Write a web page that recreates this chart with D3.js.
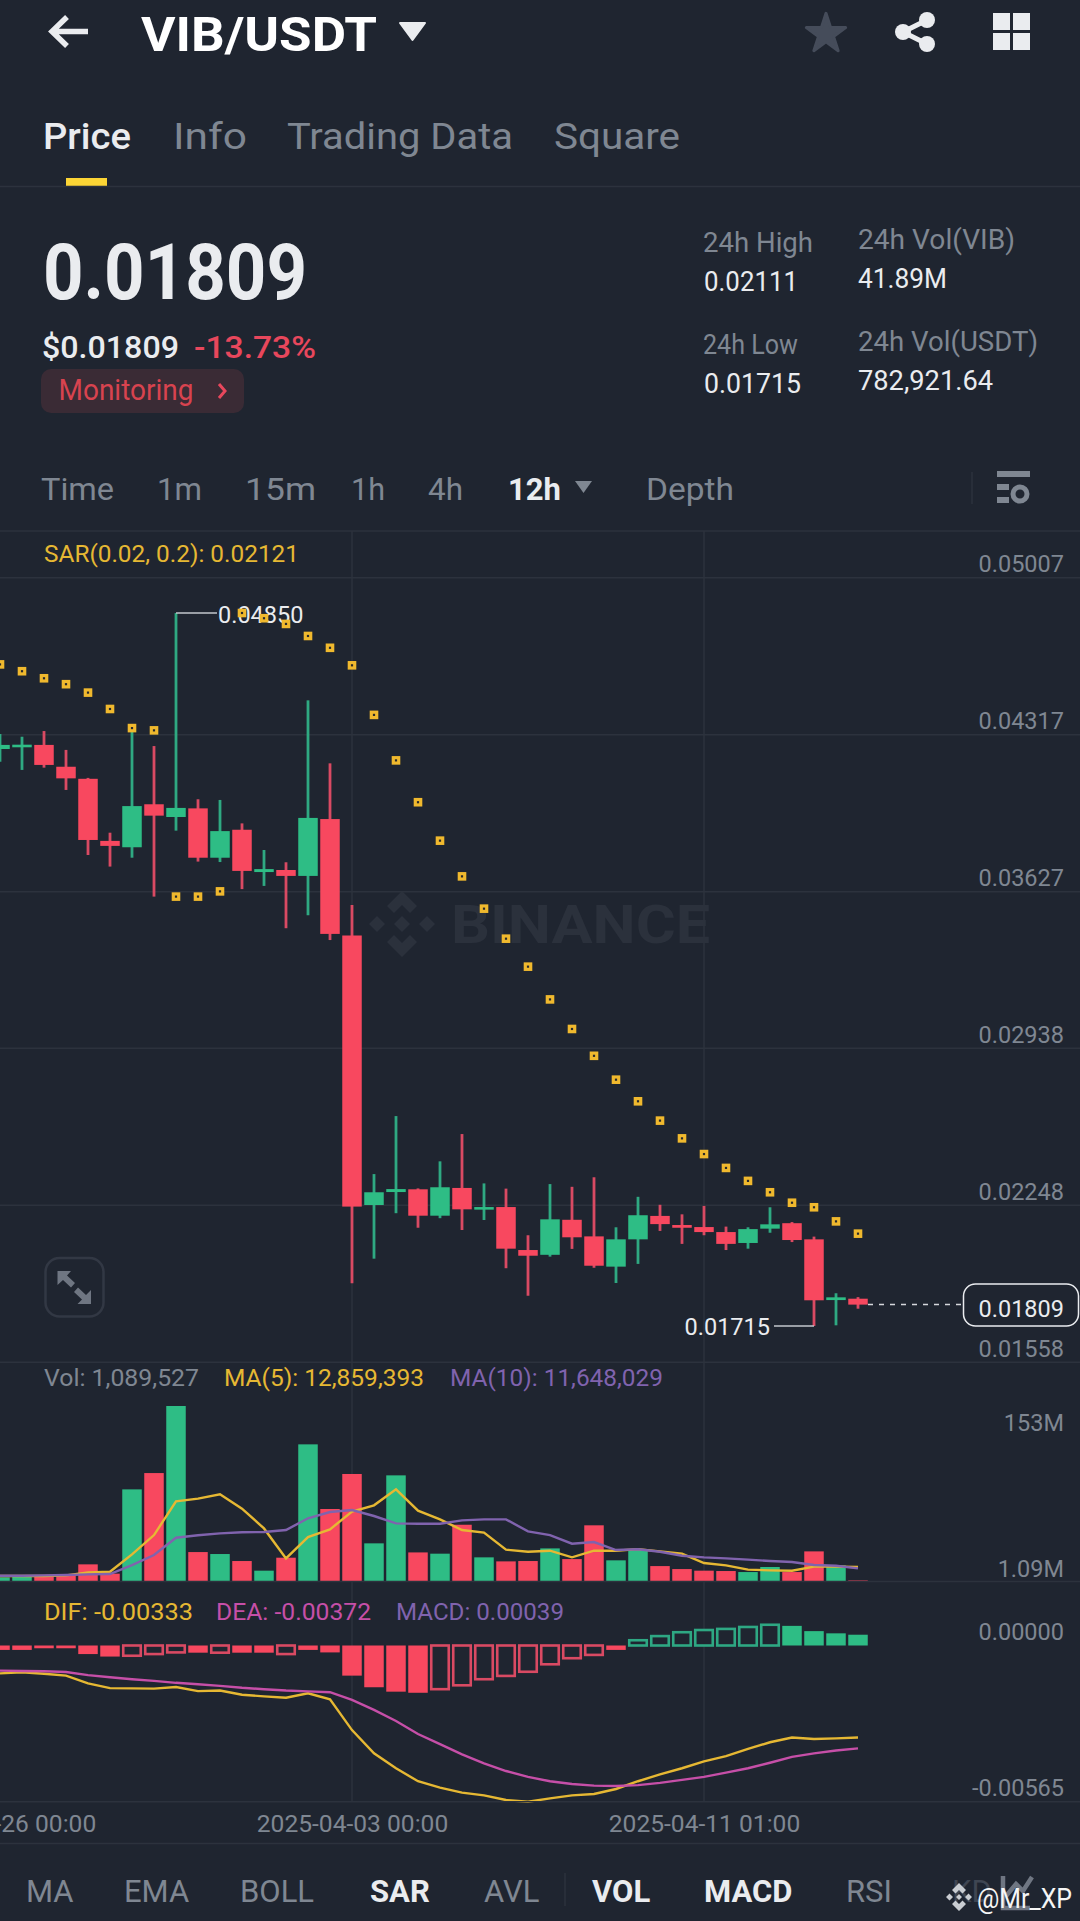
<!DOCTYPE html>
<html>
<head>
<meta charset="utf-8">
<script src="https://cdn.jsdelivr.net/npm/d3@7"></script>
<style>
  html, body { margin: 0; padding: 0; background: #1f2530; }
  svg { display: block; font-family: Roboto, sans-serif; }
</style>
</head>
<body>
<script>
// 12h candles
const highs = [.04318,.04306,.04331,.04248,.04125,.03884,.04336,.04265,.04850,.04031,
  .04028,.03925,.03808,.03754,.04466,.04189,.03566,.02383,.02638,.02320,
  .02439,.02559,.02342,.02319,.02114,.02339,.02327,.02369,.02149,.02283,
  .02248,.02206,.02243,.02152,.02149,.02237,.02172,.02108,.01859,.01842];
const lows = [.04196,.04160,.04170,.04072,.03786,.03735,.03774,.03603,.03893,.03757,
  .03755,.03636,.03650,.03464,.03521,.03412,.01903,.02011,.02211,.02147,
  .02189,.02137,.02181,.01969,.01848,.02020,.02054,.01971,.01904,.01988,
  .02133,.02076,.02114,.02049,.02055,.02125,.02084,.01715,.01718,.01791];
const opens = [.04252,.04261,.04270,.04174,.04121,.03848,.03820,.04009,.03953,.03991,
  .03774,.03897,.03711,.03720,.03694,.03944,.03432,.02247,.02304,.02316,
  .02200,.02322,.02228,.02238,.02049,.02028,.02182,.02109,.01976,.02096,
  .02199,.02159,.02150,.02128,.02080,.02143,.02167,.02096,.01829,.01835];
const closes = [.04270,.04271,.04182,.04123,.03852,.03826,.04001,.03959,.03993,.03774,
  .03891,.03716,.03724,.03694,.03949,.03439,.02240,.02303,.02317,.02200,
  .02325,.02228,.02238,.02055,.02024,.02184,.02105,.01980,.02096,.02202,
  .02163,.02147,.02128,.02076,.02141,.02162,.02093,.01828,.01841,.01809];
const sar = [.04624,.04594,.04563,.04537,.04500,.04428,.04344,.04334,.03603,.03603,
  .03626,.04850,.04827,.04802,.04749,.04697,.04620,.04402,.04202,.04018,
  .03849,.03692,.03550,.03418,.03295,.03151,.03021,.02903,.02798,.02703,
  .02618,.02540,.02471,.02410,.02353,.02303,.02257,.02237,.02175,.02121];

// volume, millions
const volumes = [3.8,4.1,5.2,5.8,15.1,7.0,80.4,94.6,153,25.8,24.1,18,9.6,20.9,119.6,63.3,93.8,33.4,92.6,25.5,
  24.4,49.6,21.2,17.7,18,29,19.7,49.1,18.6,27.6,13.6,11,9.6,9.3,8.4,12.8,8.4,26.4,14.2,1.09];
const ma5 = [4.9,4.9,4.9,5.5,8.1,8.7,23.8,40.6,70,72.3,76.1,63.6,46.4,20.3,38.9,45.6,61,66.5,80.4,61.8,
  54.3,45,42.7,27.9,26.1,27,21.2,27,27,28.4,26.4,24.4,16.3,14.2,10.5,9.9,9.6,13.1,13.1,12.86];
const ma10 = [5.2,5.2,5.5,5.8,6.4,6.7,14.5,23.2,38.3,40.4,42.1,43,43.3,45,55.2,60.7,62.4,57.2,50.8,50.5,
  50.5,53.4,54.3,54.3,43.8,40.6,33.1,34.5,27.6,28.2,26.1,22.6,21.2,20.3,19.2,18,17.1,14.5,13.9,11.65];

// MACD
const macd = [-.00016,-.00016,-.00010,-.00010,-.00031,-.00040,-.00037,-.00031,-.00025,-.00026,
  -.00026,-.00026,-.00026,-.00031,-.00016,-.00025,-.00109,-.00151,-.00167,-.00171,
  -.00158,-.00144,-.00122,-.00110,-.00095,-.00068,-.00046,-.00034,-.00016,.00019,
  .00034,.00048,.00056,.00060,.00067,.00075,.00071,.00052,.00044,.00039];
const macdHollow = [6,7,8,10,13,20,21,22,23,24,25,26,27,29,30,31,32,33,34,35];
const dif = [-.00101,-.00097,-.00102,-.00109,-.00137,-.00154,-.00155,-.00156,-.00150,-.00165,
  -.00163,-.00178,-.00184,-.00189,-.00173,-.00195,-.00306,-.00390,-.00444,-.00491,
  -.00514,-.00532,-.00542,-.00559,-.00565,-.00553,-.00542,-.00537,-.00519,-.00491,
  -.00466,-.00444,-.00419,-.00400,-.00374,-.00350,-.00333,-.00338,-.00336,-.00333];
const dea = [-.00091,-.00092,-.00093,-.00096,-.00107,-.00115,-.00122,-.00128,-.00135,-.00140,
  -.00146,-.00153,-.00158,-.00163,-.00166,-.00169,-.00197,-.00233,-.00273,-.00320,
  -.00357,-.00394,-.00426,-.00454,-.00475,-.00491,-.00501,-.00507,-.00508,-.00505,
  -.00497,-.00486,-.00475,-.00460,-.00444,-.00424,-.00403,-.00390,-.00380,-.00372];

// ticks
const priceTicks = [.05007,.04317,.03627,.02938,.02248,.01558];
const dateTicks = [[0, '2025-03-26 00:00'], [16, '2025-04-03 00:00'], [32, '2025-04-11 01:00']];
const timeTabs = [['Time',41,73],['1m',157,45],['15m',245,71],['1h',351,34],['4h',428,35],['12h',508,53],['Depth',646,88]];
const topTabs = [['Price',43,88],['Info',173,74],['Trading Data',287,226],['Square',554,126]];
const bottomTabs = [['MA',26],['EMA',124],['BOLL',240],['SAR',370],['AVL',484],['VOL',592],['MACD',704],['RSI',846],['KD',952]];
const activeTabs = ['Price','12h','SAR','VOL','MACD'];
const lastPrice = 0.01809, highPrice = 0.0485, lowPrice = 0.01715;

const BG = '#1f2530', GRID = '#2c323d', GREEN = '#2ebd85', RED = '#f8485f',
  GREY = '#7f8792', WHITE = '#eaecef', GOLD = '#e6b833', PURPLE = '#8063ae', PINK = '#c64fa8';

const width = 1080, height = 1921;
const svg = d3.select('body').append('svg').attr('width', width).attr('height', height)
  .style('background', BG);

const n = highs.length;
const barW = 19.5;
const x = d3.scaleLinear().domain([0, n - 1]).range([0, 858]);
const yPrice = d3.scaleLinear().domain([.01558, .05007]).range([1361.7, 577.3]);
const yVol = d3.scaleLinear().domain([0, 153]).range([1581.7, 1406]);
const yMacd = d3.scaleLinear().domain([-.00565, 0]).range([1801.7, 1645.5]);
const up = i => closes[i] >= opens[i];

function label(str, px, py, size, fill, weight, anchor) {
  return svg.append('text').attr('x', px).attr('y', py).text(str)
    .attr('font-size', size).attr('fill', fill)
    .attr('font-weight', weight || 400).attr('text-anchor', anchor || 'start');
}

// the app font is wider than Roboto in letters, so some texts are stretched to the measured width
function fit(sel, w) {
  return sel.attr('textLength', w).attr('lengthAdjust', 'spacingAndGlyphs');
}

function hline(py, x1, x2, color) {
  svg.append('line').attr('x1', x1 === undefined ? 0 : x1).attr('x2', x2 === undefined ? width : x2)
    .attr('y1', py).attr('y2', py).attr('stroke', color || GRID).attr('stroke-width', 1.5);
}

// header
svg.append('path').attr('d', 'M88 31.5H54 M67 17L52 31.5L67 46')
  .attr('fill', 'none').attr('stroke', WHITE).attr('stroke-width', 5.5);
fit(label('VIB/USDT', 141, 50.5, 48, '#ffffff', 700), 236);
svg.append('path').attr('d', 'M400 23H425L412.500 40Z').attr('fill', WHITE).attr('stroke', WHITE)
  .attr('stroke-width', 2).attr('stroke-linejoin', 'round');
svg.append('path').attr('transform', 'translate(826,34)')
  .attr('d', d3.symbol(d3.symbolStar, 480)()).attr('fill', '#454c5a')
  .attr('stroke', '#454c5a').attr('stroke-width', 3).attr('stroke-linejoin', 'round');
svg.append('path').attr('d', 'M927 20L903 32L927 44').attr('fill', 'none').attr('stroke', WHITE).attr('stroke-width', 5);
svg.selectAll('circle.share').data([[927, 20], [903, 32], [927, 44]]).enter().append('circle')
  .attr('class', 'share').attr('cx', d => d[0]).attr('cy', d => d[1]).attr('r', 8).attr('fill', WHITE);
svg.selectAll('rect.menu').data([[993, 13], [1013, 13], [993, 33], [1013, 33]]).enter()
  .append('rect').attr('class', 'menu').attr('x', d => d[0]).attr('y', d => d[1])
  .attr('width', 17).attr('height', 17).attr('fill', WHITE);

// tabs
topTabs.forEach(t => fit(label(t[0], t[1], 149, 37, activeTabs.includes(t[0]) ? WHITE : GREY, activeTabs.includes(t[0]) ? 500 : 400), t[2]));
svg.append('rect').attr('x', 66).attr('y', 178).attr('width', 41).attr('height', 8).attr('fill', '#fcd535');
hline(186.5);

// price block
fit(label('0.01809', 43, 299, 77, WHITE, 700), 264);
fit(label('$0.01809', 42, 358, 32, WHITE, 500), 137);
fit(label('-13.73%', 194, 358, 32, '#e8475c', 500), 122);
svg.append('rect').attr('x', 41).attr('y', 369).attr('width', 203).attr('height', 44).attr('rx', 10).attr('fill', '#3a2b35');
fit(label('Monitoring', 58.5, 400, 29, '#d8434f'), 135);
svg.append('path').attr('d', 'M219 384L225 391L219 398').attr('fill', 'none').attr('stroke', '#e8475c').attr('stroke-width', 3);

fit(label('24h High', 703, 252, 28, GREY), 110);
fit(label('0.02111', 704, 291, 27, WHITE), 94);
fit(label('24h Low', 703, 354, 28, GREY), 95);
fit(label('0.01715', 704, 393, 27, WHITE), 97);
fit(label('24h Vol(VIB)', 858, 249, 28, GREY), 157);
fit(label('41.89M', 858, 288, 27, WHITE), 89);
fit(label('24h Vol(USDT)', 858, 351, 28, GREY), 180);
fit(label('782,921.64', 858, 390, 27, WHITE), 135);

// time frame row
timeTabs.forEach(t => fit(label(t[0], t[1], 500, 32, activeTabs.includes(t[0]) ? WHITE : GREY, activeTabs.includes(t[0]) ? 700 : 400), t[2]));
svg.append('path').attr('d', 'M575 481H592L583.500 493Z').attr('fill', GREY);
svg.append('line').attr('x1', 972).attr('x2', 972).attr('y1', 472).attr('y2', 504).attr('stroke', GRID).attr('stroke-width', 1.5);
svg.append('path').attr('d', 'M997 471H1030V477H997Z M997 484H1009V490H997Z M997 497H1009V503H997Z').attr('fill', GREY);
svg.append('circle').attr('cx', 1020).attr('cy', 494).attr('r', 7).attr('fill', 'none').attr('stroke', GREY).attr('stroke-width', 5);

// frames and grid
hline(531);
hline(1843.5);
dateTicks.slice(1).forEach(d => {
  svg.append('line').attr('x1', x(d[0])).attr('x2', x(d[0])).attr('y1', 531).attr('y2', 1801.7)
    .attr('stroke', GRID).attr('stroke-width', 1.5);
});

// watermark
const mark = svg.append('g').attr('fill', '#2b313c');
mark.append('path').attr('transform', 'translate(402,924)')
  .attr('d', 'M0-33L15-18L8-11L0-19L-8-11L-15-18Z M-33 0L-25-8L-17 0L-25 8Z M33 0L25-8L17 0L25 8Z M-8 0L0-8L8 0L0 8Z M0 33L15 18L8 11L0 19L-8 11L-15 18Z');
mark.append('text').attr('x', 451).attr('y', 943).attr('font-size', 54).attr('font-weight', 700)
  .attr('textLength', 259).attr('lengthAdjust', 'spacingAndGlyphs').text('BINANCE');

// price axis
const priceAxis = d3.axisLeft(yPrice).tickValues(priceTicks).tickFormat(d3.format('.5f')).tickSize(width).tickPadding(0);
const priceG = svg.append('g').attr('transform', `translate(${width},0)`).call(priceAxis);
priceG.select('.domain').remove();
priceG.selectAll('.tick line').attr('stroke', GRID).attr('stroke-width', 1.5);
priceG.selectAll('.tick text').attr('x', -16).attr('y', -5.5).attr('dy', 0).attr('text-anchor', 'end')
  .attr('font-size', 23.5).attr('font-family', 'Roboto').attr('fill', GREY);

// candles
const candles = svg.append('g');
candles.selectAll('line').data(d3.range(n)).enter().append('line')
  .attr('x1', i => x(i)).attr('x2', i => x(i))
  .attr('y1', i => yPrice(highs[i])).attr('y2', i => yPrice(lows[i]))
  .attr('stroke', i => up(i) ? '#2fa982' : '#d94a63').attr('stroke-width', 2.8);
candles.selectAll('rect').data(d3.range(n)).enter().append('rect')
  .attr('x', i => x(i) - barW / 2).attr('width', barW)
  .attr('y', i => yPrice(Math.max(opens[i], closes[i])))
  .attr('height', i => Math.max(2.6, Math.abs(yPrice(opens[i]) - yPrice(closes[i]))))
  .attr('fill', i => up(i) ? GREEN : RED);

// high / low marks
hline(yPrice(highPrice), x(8), 217, '#c3c7cd');
label('0.04850', 218, 622.5, 23.5, WHITE);
hline(yPrice(lowPrice), 774, x(37), '#c3c7cd');
label('0.01715', 770, 1335, 23.5, WHITE, 400, 'end');

// SAR dots
svg.append('g').selectAll('rect').data(sar).enter().append('rect')
  .attr('x', (d, i) => x(i) - 2.7).attr('y', d => yPrice(d) - 2.7)
  .attr('width', 5.4).attr('height', 5.4)
  .attr('fill', '#2a2a2a').attr('stroke', '#f0b92e').attr('stroke-width', 3.2);
fit(label('SAR(0.02, 0.2): 0.02121', 44, 561.5, 24, GOLD), 255);

// last price
svg.append('line').attr('x1', x(n - 1) + 10).attr('x2', 962).attr('y1', yPrice(lastPrice)).attr('y2', yPrice(lastPrice))
  .attr('stroke', '#d5d8dc').attr('stroke-width', 1.5).attr('stroke-dasharray', '5,6');
svg.append('rect').attr('x', 963.5).attr('y', 1284).attr('width', 115).attr('height', 42).attr('rx', 12)
  .attr('fill', BG).attr('stroke', WHITE).attr('stroke-width', 1.5);
label('0.01809', 1064, 1316.5, 23.5, WHITE, 400, 'end');

// expand button
svg.append('rect').attr('x', 45.5).attr('y', 1258).attr('width', 58).attr('height', 58.5).attr('rx', 14)
  .attr('fill', 'none').attr('stroke', '#323844').attr('stroke-width', 2.5);
svg.append('path').attr('fill', '#6f7682')
  .attr('d', 'M57.500 1271H71L67 1275.500L75 1283L71 1287.500L63 1280L57.500 1285Z M91 1304H77.500L82 1299.500L74 1292L78 1287.500L86 1295L91 1290Z');

// volume panel
fit(label('Vol: 1,089,527', 44, 1386, 24, GREY), 155);
fit(label('MA(5): 12,859,393', 224, 1386, 24, GOLD), 200);
fit(label('MA(10): 11,648,029', 450, 1386, 24, PURPLE), 213);
svg.append('g').selectAll('rect').data(volumes).enter().append('rect')
  .attr('x', (d, i) => x(i) - barW / 2).attr('width', barW)
  .attr('y', d => yVol(d)).attr('height', d => yVol(0) - yVol(d))
  .attr('fill', (d, i) => up(i) ? GREEN : RED);
hline(1581.5);
const volLine = d3.line().x((d, i) => x(i)).y(d => yVol(d));
svg.append('path').attr('d', volLine(ma5)).attr('fill', 'none').attr('stroke', GOLD).attr('stroke-width', 2.4);
svg.append('path').attr('d', volLine(ma10)).attr('fill', 'none').attr('stroke', PURPLE).attr('stroke-width', 2.4);
label('153M', 1064, 1430.5, 23.5, GREY, 400, 'end');
label('1.09M', 1064, 1576.5, 23.5, GREY, 400, 'end');

// macd panel
fit(label('DIF: -0.00333', 44, 1620, 24, GOLD), 149);
fit(label('DEA: -0.00372', 216, 1620, 24, PINK), 155);
fit(label('MACD: 0.00039', 396, 1620, 24, PURPLE), 168);
svg.append('g').selectAll('rect').data(macd).enter().append('rect')
  .each(function (d, i) {
    const hollow = macdHollow.includes(i);
    const color = d >= 0 ? GREEN : RED;
    const top = Math.min(yMacd(d), yMacd(0));
    const h = Math.abs(yMacd(d) - yMacd(0));
    d3.select(this)
      .attr('x', x(i) - barW / 2 + (hollow ? 1 : 0)).attr('width', barW - (hollow ? 2 : 0))
      .attr('y', top).attr('height', h)
      .attr('fill', hollow ? BG : color)
      .attr('stroke', hollow ? (d >= 0 ? '#2ea883' : '#d94a63') : 'none')
      .attr('stroke-width', hollow ? 2.6 : 0);
  });
const macdLine = d3.line().x((d, i) => x(i)).y(d => yMacd(d));
svg.append('path').attr('d', macdLine(dif)).attr('fill', 'none').attr('stroke', GOLD).attr('stroke-width', 2.4);
svg.append('path').attr('d', macdLine(dea)).attr('fill', 'none').attr('stroke', PINK).attr('stroke-width', 2.4);
label('0.00000', 1064, 1639.5, 23.5, GREY, 400, 'end');
hline(1801.7);
label('-0.00565', 1064, 1795.5, 23.5, GREY, 400, 'end');

// date axis
const dateAxis = d3.axisBottom(x).tickValues(dateTicks.map(d => d[0]))
  .tickFormat(v => dateTicks.find(d => d[0] === v)[1]).tickSize(0);
const dateG = svg.append('g').attr('transform', 'translate(0,1801.7)').call(dateAxis);
dateG.select('.domain').remove();
dateG.selectAll('.tick text').attr('y', 30).attr('dy', 0).attr('font-size', 24.6)
  .attr('font-family', 'Roboto').attr('fill', GREY);

// bottom tabs
bottomTabs.forEach(t => {
  const on = activeTabs.includes(t[0]);
  label(t[0], t[1], 1901.5, 31, t[0] === 'KD' ? '#3f4652' : (on ? WHITE : GREY), on ? 700 : 400);
});
svg.append('line').attr('x1', 565).attr('x2', 565).attr('y1', 1873).attr('y2', 1906).attr('stroke', GRID).attr('stroke-width', 1.5);
svg.append('path').attr('d', 'M1003 1876V1908H1030 M1006 1896L1016 1884L1023 1891L1032 1877')
  .attr('fill', 'none').attr('stroke', '#6f7682').attr('stroke-width', 4.5);

// image watermark
svg.append('path').attr('transform', 'translate(959,1897)').attr('fill', '#c9cdd2').attr('fill-rule', 'evenodd')
  .attr('d', 'M0-14L7-7L3.500-3.500L0-7L-3.500-3.500L-7-7Z M-13 0L-9.500-3.500L-6 0L-9.500 3.500Z M13 0L9.500-3.500L6 0L9.500 3.500Z M-3 0L0-3L3 0L0 3Z M0 14L7 7L3.500 3.500L0 7L-3.500 3.500L-7 7Z');
fit(label('@Mr_XP', 977, 1908, 27, '#f5f5f5'), 95);
</script>
</body>
</html>
